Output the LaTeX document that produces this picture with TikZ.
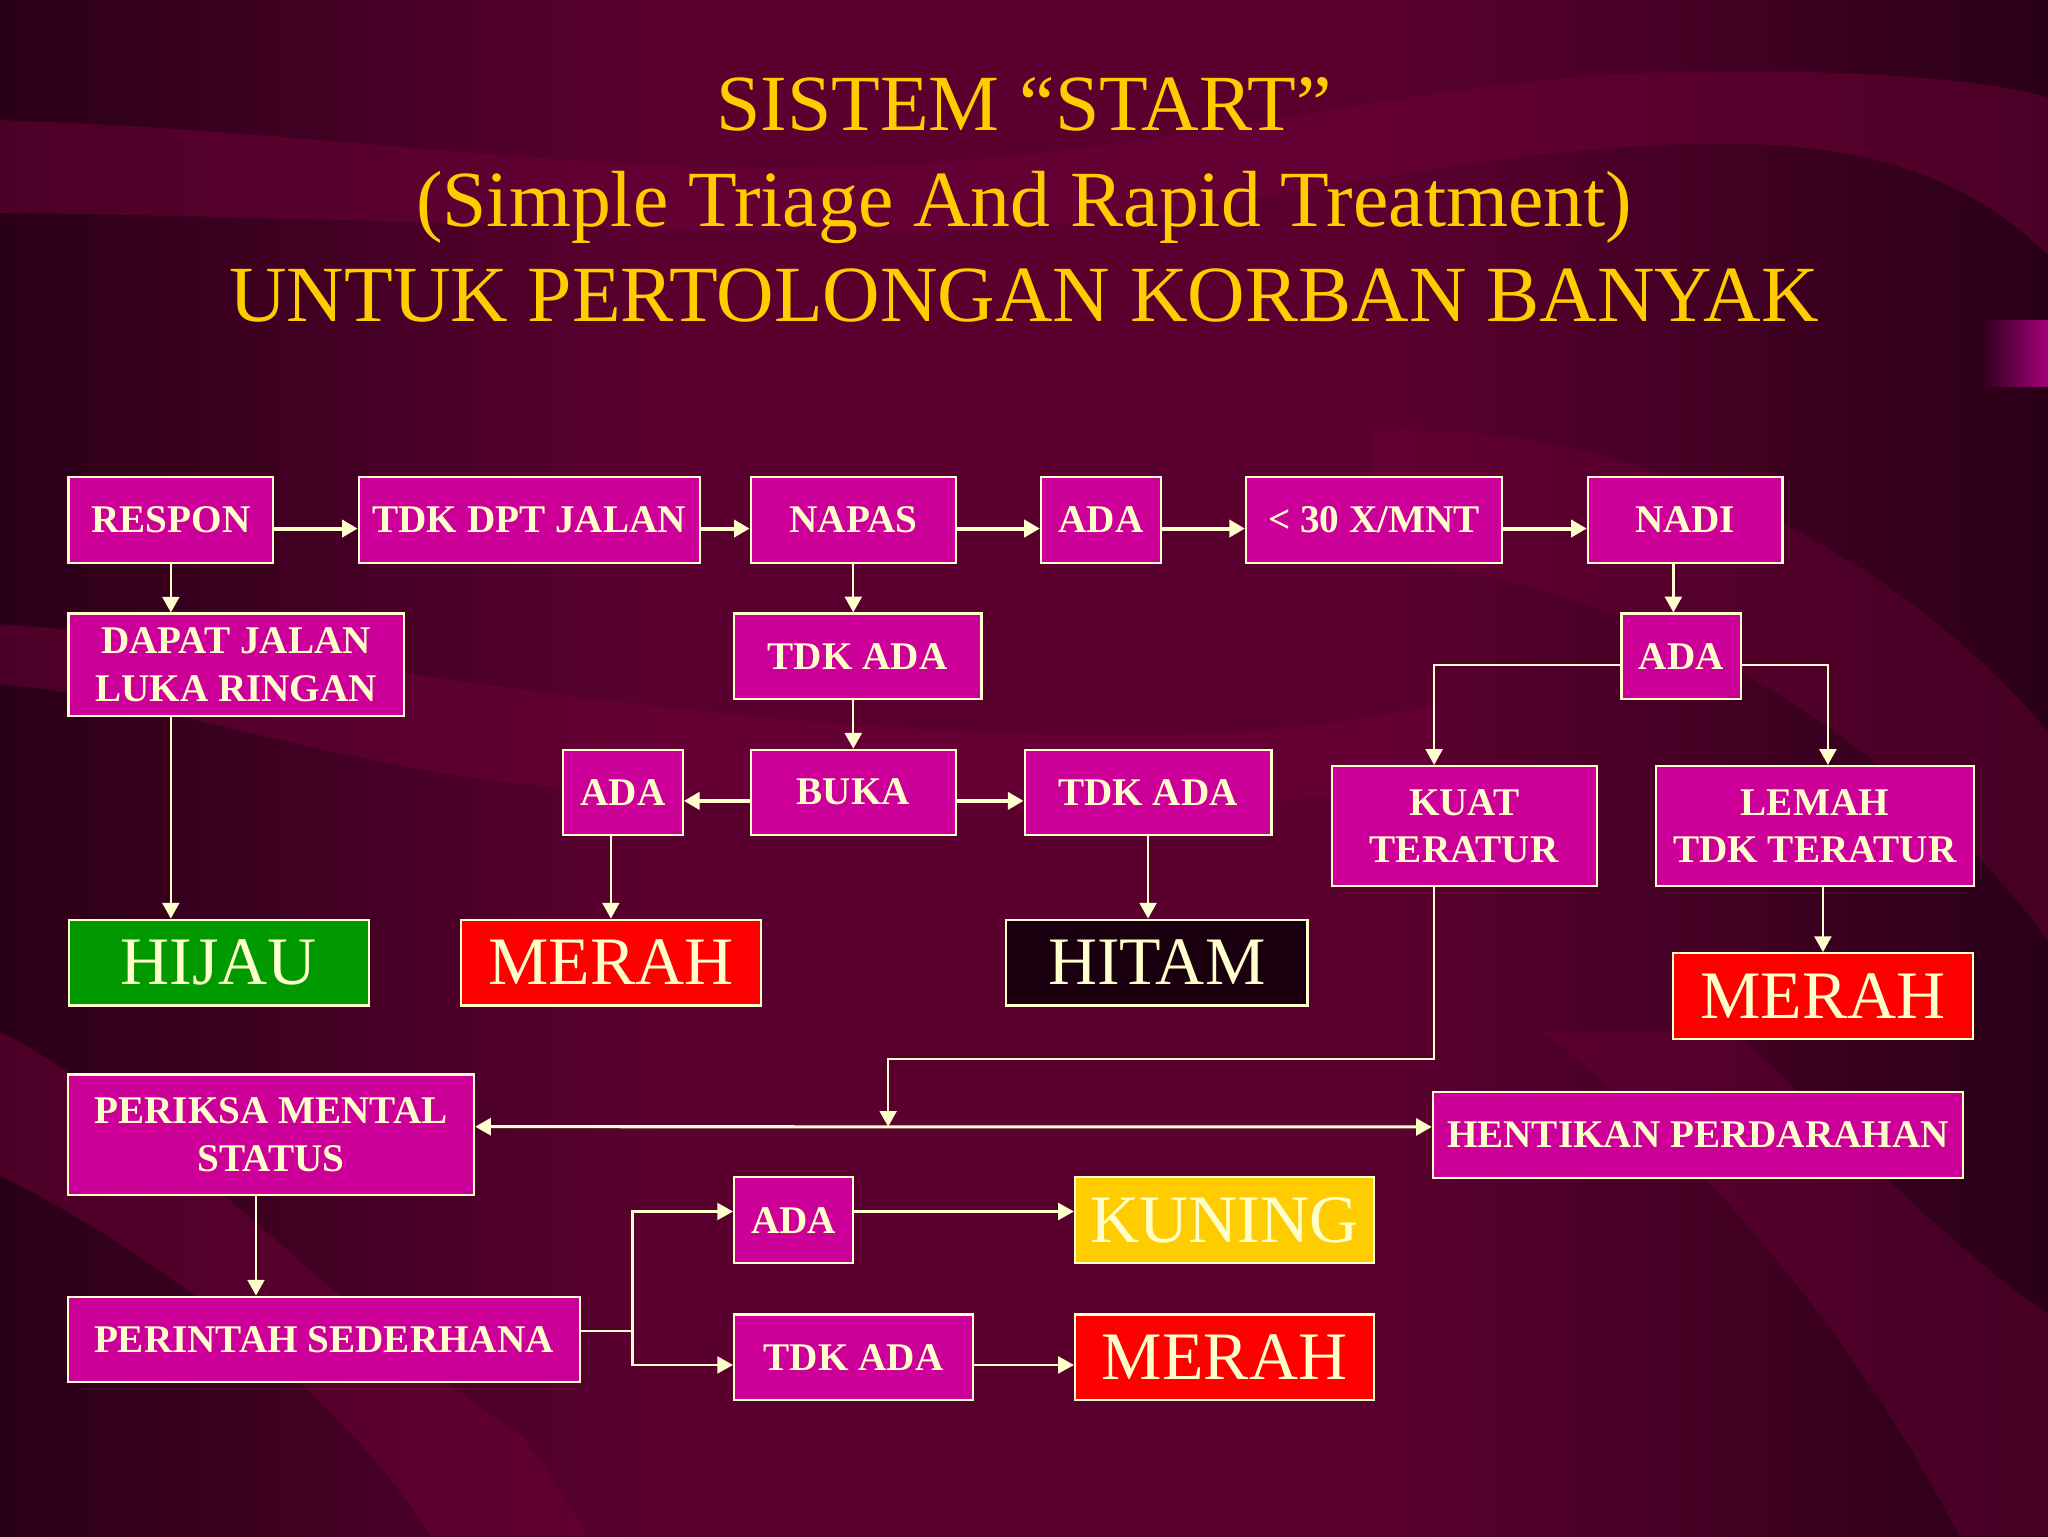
\documentclass[tikz,border=0pt]{standalone}
\usepackage{fontspec}
\setmainfont{Liberation Serif}
\usetikzlibrary{arrows.meta}
\definecolor{cream}{HTML}{FFFFCC}
\definecolor{boxmag}{HTML}{CC0099}
\definecolor{gold}{HTML}{FFCC00}
\definecolor{hijaucol}{HTML}{009900}
\definecolor{merahcol}{HTML}{FF0000}
\definecolor{hitamcol}{HTML}{1A000E}
\definecolor{kuningcol}{HTML}{FFCC00}
\definecolor{bgdark}{HTML}{2A0017}
\definecolor{bgmid}{HTML}{5A002F}
\definecolor{bandcol}{HTML}{6E0038}
\pgfdeclarehorizontalshading{bgshade}{100bp}{color(0bp)=(bgdark); color(25bp)=(bgdark); color(41bp)=(bgmid); color(59bp)=(bgmid); color(75bp)=(bgdark); color(100bp)=(bgdark)}

\begin{document}
\begin{tikzpicture}[x=0.3pt, y=-0.3pt,
  box/.style={draw=cream, line width=0.5pt, fill=boxmag, text=cream, align=center, inner sep=0pt, font=\bfseries\fontsize{9}{10.9}\selectfont},
  bigbox/.style={draw=cream, line width=0.5pt, text=cream, inner sep=0pt, font=\fontsize{15.6}{18}\selectfont},
  bw/.style={minimum width=#1*0.3pt},
  bh/.style={minimum height=#1*0.3pt},
  arr/.style={draw=cream, line width=0.5pt, -{Triangle[length=3.6pt,width=3.9pt]}},
  arrbold/.style={arr, line width=0.9pt},
  arrboth/.style={draw=cream, line width=0.7pt, {Triangle[length=3.6pt,width=3.9pt]}-{Triangle[length=3.6pt,width=3.9pt]}},
  band/.style={fill=bandcol, fill opacity=0.5},
  titletext/.style={text=gold, anchor=base, inner sep=0pt, font=\fontsize{18.3}{22}\selectfont}]
\useasboundingbox (0,0) rectangle (1568,1176);
% background
\shade[shading=bgshade] (0,0) rectangle (1568,1176);
\fill[band] (0,92) .. controls (250,100) and (450,135) .. (650,128) .. controls (900,120) and (1080,60) .. (1280,55) .. controls (1450,52) and (1540,65) .. (1568,75) -- (1568,195) .. controls (1500,130) and (1420,108) .. (1300,110) .. controls (1080,115) and (900,180) .. (680,178) .. controls (450,176) and (250,166) .. (0,163) -- cycle;
\fill[band] (0,478) .. controls (200,490) and (400,540) .. (700,558) .. controls (900,570) and (1000,560) .. (1100,540) -- (1100,600) .. controls (900,630) and (600,620) .. (400,600) .. controls (250,585) and (100,530) .. (0,524) -- cycle;
\fill[band, fill opacity=0.4] (1050,330) .. controls (1250,320) and (1450,420) .. (1568,560) -- (1568,720) .. controls (1450,560) and (1250,440) .. (1050,430) -- cycle;
\fill[band, fill opacity=0.4] (1180,790) -- (1330,790) .. controls (1420,880) and (1500,960) .. (1568,1006) -- (1568,1176) -- (1500,1176) .. controls (1420,1020) and (1300,880) .. (1180,790) -- cycle;
\fill[band] (0,790) .. controls (120,850) and (250,1000) .. (400,1100) .. controls (430,1140) and (440,1160) .. (450,1176) -- (330,1176) .. controls (250,1050) and (100,950) .. (0,900) -- cycle;
\shade[left color=bgdark, right color=boxmag!80!black] (1515,245) rectangle (1568,296);
% title
\node[titletext] (judul1) at (784,99.6) {SISTEM “START”};
\node[titletext] (judul2) at (784,173.6) {(Simple Triage And Rapid Treatment)};
\node[titletext] (judul3) at (784,246.5) {UNTUK PERTOLONGAN KORBAN BANYAK};
% row 1
\node[box, bw=156.6, bh=66] (respon) at (130.8,398) {RESPON};
\node[box, bw=261, bh=66] (tdkjalan) at (405.2,398) {TDK DPT JALAN};
\node[box, bw=157, bh=66] (napas) at (653.3,398) {NAPAS};
\node[box, bw=92, bh=66] (ada1) at (843,398) {ADA};
\node[box, bw=196, bh=66] (kurang) at (1052,398) {< 30 X/MNT};
\node[box, bw=149, bh=66] (nadi) at (1290.2,398) {NADI};
% row 2
\node[box, bw=256.7, bh=78.5] (dapat) at (180.8,509) {DAPAT JALAN\\LUKA RINGAN};
\node[box, bw=189.6, bh=65.4] (tdkada1) at (656.6,502.4) {TDK ADA};
\node[box, bw=91.5, bh=65.4] (ada2) at (1287.2,502.4) {ADA};
% row 3
\node[box, bw=91.5, bh=65] (ada3) at (477,606.5) {ADA};
\node[box, bw=157, bh=65] (buka) at (653.3,606.5) {BUKA};
\node[box, bw=189, bh=65] (tdkada2) at (879,606.5) {TDK ADA};
\node[box, bw=203, bh=92] (kuat) at (1121,632.4) {KUAT\\TERATUR};
\node[box, bw=243.6, bh=92] (lemah) at (1389.5,632.4) {LEMAH\\TDK TERATUR};
% colour results
\node[bigbox, fill=hijaucol, bw=230, bh=65.7] (hijau) at (167.6,736.9) {HIJAU};
\node[bigbox, fill=merahcol, bw=230, bh=65.7] (merah1) at (467.7,736.9) {MERAH};
\node[bigbox, fill=hitamcol, bw=230.6, bh=65.7] (hitam) at (885.7,736.9) {HITAM};
\node[bigbox, fill=merahcol, bw=230.2, bh=65.5] (merah2) at (1395.7,762.5) {MERAH};
% mental status part
\node[box, bw=311, bh=92] (periksa) at (207.5,868.6) {PERIKSA MENTAL\\STATUS};
\node[box, bw=406, bh=65.6] (hentikan) at (1300,868.8) {HENTIKAN PERDARAHAN};
\node[box, bw=392, bh=65.6] (perintah) at (248,1025.5) {PERINTAH SEDERHANA};
\node[box, bw=91, bh=66] (ada4) at (607.5,934.2) {ADA};
\node[bigbox, fill=kuningcol, bw=229, bh=66] (kuning) at (937.5,934.2) {KUNING};
\node[box, bw=183, bh=65.6] (tdkada3) at (653.5,1039.2) {TDK ADA};
\node[bigbox, fill=merahcol, bw=229, bh=65.6] (merah3) at (937.5,1039.2) {MERAH};
% row 1 arrows
\foreach \a/\b in {respon/tdkjalan, tdkjalan/napas, napas/ada1, ada1/kurang, kurang/nadi}
  \draw[arrbold] ([yshift=-2pt]\a.east) -- ([yshift=-2pt]\b.west);
% walking / breathing
\draw[arr] (respon.south) -- (respon.south |- dapat.north);
\draw[arr] (dapat.south -| respon.south) -- (hijau.north -| respon.south);
\draw[arr] (napas.south) -- (napas.south |- tdkada1.north);
\draw[arr] (tdkada1.south -| buka.north) -- (buka.north);
\draw[arrbold] ([yshift=-2pt]buka.west) -- ([yshift=-2pt]ada3.east);
\draw[arrbold] ([yshift=-2pt]buka.east) -- ([yshift=-2pt]tdkada2.west);
\draw[arr] (merah1.north |- ada3.south) -- (merah1.north);
\draw[arr] (tdkada2.south) -- (tdkada2.south |- hitam.north);
% pulse
\draw[arr] ([xshift=-1.8pt]ada2.north |- nadi.south) -- ([xshift=-1.8pt]ada2.north);
\draw[arr] ([yshift=-2pt]ada2.west) -| ([xshift=-6.9pt]kuat.north);
\draw[arr] ([yshift=-2pt]ada2.east) -| ([xshift=3pt]lemah.north);
\draw[arr] (merah2.north |- lemah.south) -- (merah2.north);
% mental status
\coordinate (simpang) at (680,862.6);
\draw[arrboth] ([yshift=1.8pt]periksa.east) -- ([yshift=1.8pt]hentikan.west);
\draw[arr] ([xshift=-6.9pt]kuat.south) -- ++(0,131.3) -| (simpang);
\draw[arr] ([xshift=-3.45pt]periksa.south) -- ([xshift=-3.45pt]periksa.south |- perintah.north);
\draw[arr] ([yshift=1.9pt]perintah.east) -- ++(39.4,0) |- ([yshift=2pt]ada4.west);
\draw[arr] ([yshift=1.9pt]perintah.east) -- ++(39.4,0) |- ([yshift=-1.75pt]tdkada3.west);
\draw[arr] ([yshift=2pt]ada4.east) -- ([yshift=2pt]kuning.west);
\draw[arr] ([yshift=-1.75pt]tdkada3.east) -- ([yshift=-1.75pt]merah3.west);
\end{tikzpicture}
\end{document}
